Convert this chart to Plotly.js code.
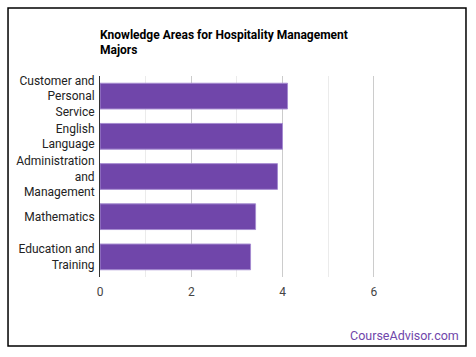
<!DOCTYPE html>
<html>
<head>
<meta charset="utf-8">
<script src="https://cdn.plot.ly/plotly-3.0.1.min.js"></script>
<style>html,body{margin:0;padding:0;background:#fff;}#chart{width:476px;height:357px;}</style>
</head>
<body>
<div id="chart"></div>
<script>
var categories = ["Customer and<br>Personal<br>Service", "English<br>Language", "Administration<br>and<br>Management", "Mathematics", "Education and<br>Training"];
var values = [4.11, 4.0, 3.89, 3.41, 3.30];
var xTickVals = [0, 2, 4, 6];
var xMinorVals = [1, 3, 5];
var chartTitle = "Knowledge Areas for Hospitality Management<br>Majors";
var watermark = "CourseAdvisor.com";

var trace = {
  type: 'bar',
  orientation: 'h',
  y: categories,
  x: values,
  width: 0.64,
  marker: {color: '#7046aa', line: {color: '#a58bd0', width: 1}},
  hoverinfo: 'x+y'
};

var layout = {
  width: 476, height: 357,
  margin: {l: 100, r: 11, t: 76, b: 80, pad: 0},
  paper_bgcolor: '#fff', plot_bgcolor: '#fff',
  font: {family: 'Roboto, Arial, sans-serif', size: 12, color: '#222'},
  showlegend: false,
  title: {
    text: '<b>' + chartTitle + '</b>',
    font: {family: 'Roboto, Arial, sans-serif', size: 12, color: '#000'},
    xref: 'paper', x: 0, xanchor: 'left',
    yref: 'container', y: 0.892, yanchor: 'top'
  },
  xaxis: {
    range: [0, 8],
    tickmode: 'array', tickvals: xTickVals,
    showgrid: true, gridcolor: '#cccccc', gridwidth: 1,
    zeroline: false, showline: false, ticks: '',
    tickfont: {size: 12, color: '#444'},
    ticklabelstandoff: 6,
    minor: {tickmode: 'array', tickvals: xMinorVals, showgrid: true, gridcolor: '#ebebeb', gridwidth: 1, ticks: ''},
    fixedrange: true
  },
  yaxis: {
    autorange: 'reversed',
    type: 'category',
    showline: true, linecolor: '#333', linewidth: 1,
    ticks: '', showgrid: false,
    tickfont: {size: 12, color: '#222'},
    ticklabelstandoff: 2,
    fixedrange: true
  },
  bargap: 0.36,
  shapes: [{
    type: 'rect', xref: 'paper', yref: 'paper',
    x0: -0.252, x1: 1.0027, y0: -0.343, y1: 1.338,
    line: {color: '#000', width: 1.5}, fillcolor: 'rgba(0,0,0,0)', layer: 'above'
  }],
  annotations: [{
    text: watermark, xref: 'paper', yref: 'paper',
    x: 1, xanchor: 'right', xshift: -4,
    y: -0.289, yanchor: 'middle', showarrow: false,
    font: {family: 'Roboto, Arial, sans-serif', size: 12.5, color: '#7046aa'}
  }]
};

Plotly.newPlot('chart', [trace], layout, {displayModeBar: false, staticPlot: true});
</script>
</body>
</html>
